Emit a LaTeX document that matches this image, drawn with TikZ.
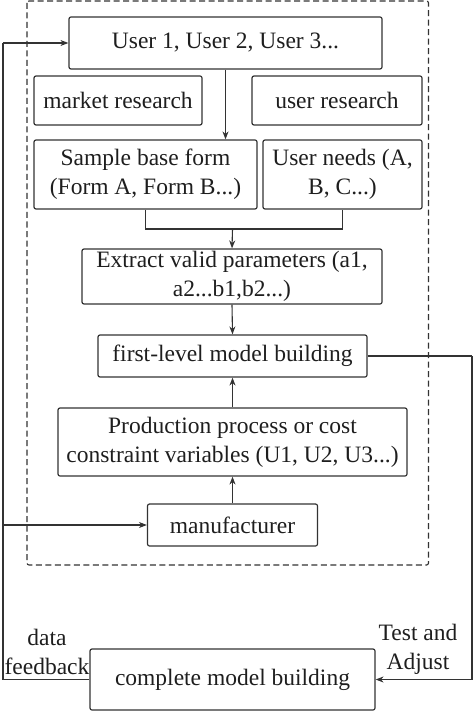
\documentclass[tikz,border=0pt]{standalone}
\usepackage{fontspec}
\setmainfont{Liberation Serif}
\usetikzlibrary{arrows.meta}
\definecolor{ln}{HTML}{333333}
\definecolor{tx}{HTML}{1E1E1E}
\tikzset{
  box/.style={draw=ln, line width=1.2pt, rounded corners=2pt, inner sep=0pt, align=center, text=tx,
    font=\fontsize{23.5}{29}\selectfont},
  lbl/.style={inner sep=0pt, align=center, text=tx, font=\fontsize{23.5}{29}\selectfont},
  con/.style={draw=ln, line width=1.1pt},
  arr/.style={con, -{Stealth[length=8pt,width=6pt]}},
  outer/.style={draw=ln, line width=1.8pt},
}
\begin{document}
\begin{tikzpicture}[x=1pt,y=-1pt]
\useasboundingbox (0,0) rectangle (474,711);
\draw[ln, line width=1.1pt, dash pattern=on 6pt off 3.5pt, rounded corners=2pt] (27,1) rectangle (428.5,565);

\node[box, minimum width=313pt, minimum height=52pt] (user) at (225.5,43) {User 1, User 2, User 3...};
\node[box, minimum width=168pt, minimum height=49pt] (market) at (118,100.5) {market research};
\node[box, minimum width=170pt, minimum height=49pt] (ures) at (337,100.5) {user research};
\node[box, minimum width=223pt, minimum height=69pt] (sample) at (145.5,174.5) {Sample base form\\(Form A, Form B...)};
\node[box, minimum width=159pt, minimum height=69pt] (needs) at (342.5,174.5) {User needs (A,\\B, C...)};
\node[box, minimum width=300pt, minimum height=55pt] (extract) at (232,276.5) {Extract valid parameters (a1,\\a2...b1,b2...)};
\node[box, minimum width=269pt, minimum height=42pt] (first) at (232.5,356) {first-level model building};
\node[box, minimum width=349pt, minimum height=68pt] (prod) at (232.5,442) {Production process or cost\\constraint variables (U1, U2, U3...)};
\node[box, minimum width=170pt, minimum height=42pt] (manu) at (232.5,525) {manufacturer};
\node[box, minimum width=285pt, minimum height=61pt] (complete) at (232.5,679.5) {complete model building};

\node[lbl] (df) at (47,652) {data\\feedback};
\node[lbl] (ta) at (418,649) {Test and\\Adjust};

\coordinate (lx) at (2.8,0);
\coordinate (rx) at (472.3,0);
\coordinate (j) at (232.5,229);

\draw[arr] (user.south) -- (user.south |- sample.north);
\draw[con] (sample.south) |- (j) -| (needs.south);
\draw[arr] (j) -- (extract.north);
\draw[arr] (extract.south) -- (first.north);
\draw[arr] (prod.north) -- (first.south);
\draw[arr] (manu.north) -- (prod.south);

\draw[con] (first.east) -- (first.east -| rx);
\draw[outer] (first.east -| rx) -- (rx |- complete.east);
\draw[arr] (rx |- complete.east) -- (complete.east);

\draw[con] (complete.west) -- (complete.west -| lx);
\draw[outer] (complete.west -| lx) -- (lx |- user.west);
\draw[arr] (lx |- user.west) -- (user.west);
\draw[arr] (lx |- manu.west) -- (manu.west);
\end{tikzpicture}
\end{document}
